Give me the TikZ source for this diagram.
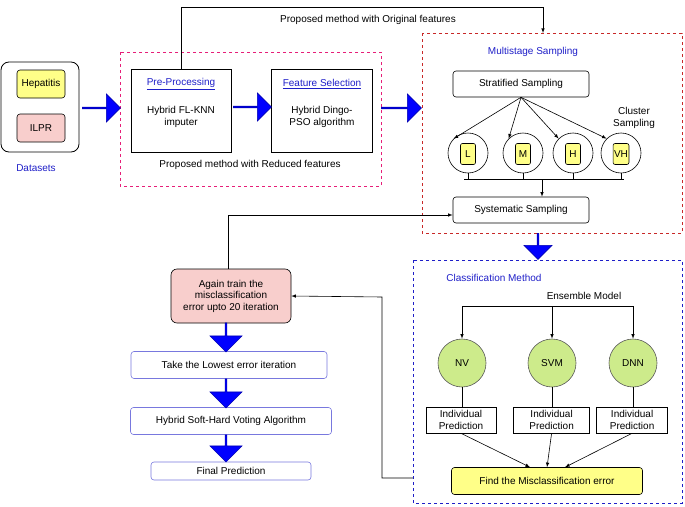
\documentclass[tikz,border=0pt]{standalone}
\usepackage{fontspec}
\setmainfont{Liberation Sans}
\usetikzlibrary{shapes.arrows,calc}
\definecolor{dsyellow}{RGB}{255,255,136}
\definecolor{dspink}{RGB}{248,206,204}
\definecolor{dsgreen}{RGB}{205,235,139}
\definecolor{dsred}{RGB}{200,40,40}
\definecolor{dsmag}{RGB}{230,30,120}
\definecolor{dsblue}{RGB}{30,30,200}
\tikzset{
  every picture/.style={line width=0.6pt},
  box/.style={draw, inner sep=1pt, align=center, font=\fontsize{10}{11.5}\selectfont},
  rbox/.style={box, rounded corners=3pt},
  bigarrow/.style={single arrow, fill=blue, draw=blue!70!black, minimum width=28pt,
    single arrow head extend=5pt, inner sep=0pt, minimum height=#1},
  circ/.style={circle, draw, minimum size=#1, inner sep=0pt},
  title/.style={text=dsblue, font=\fontsize{10}{11.5}\selectfont},
  lbl/.style={font=\fontsize{10}{11.5}\selectfont},
  conn/.style={-latex},
}
\begin{document}
\begin{tikzpicture}[x=1pt,y=-1pt]
\useasboundingbox (0,0) rectangle (685,506);
% dataset side
\node[rbox, minimum width=78pt, minimum height=90pt, rounded corners=8pt, line width=0.8pt] (data) at (40,107) {};
\node[rbox, fill=dsyellow, minimum width=48pt, minimum height=28pt] (hep) at (41,84) {Hepatitis};
\node[rbox, fill=dspink, minimum width=48pt, minimum height=28pt] (ilpr) at (41,128) {ILPR};
\node[title] (dlbl) at (36,168) {Datasets};
% reduced features group
\draw[dsmag, dashed, line width=1pt] (120,52) rectangle (381,186);
\node[box, minimum width=100pt, minimum height=83pt] (pre) at (181,111) {};
\node[lbl, text=dsblue] (pretit) at (181,84) {\underline{Pre-Processing}};
\node[lbl, align=center] (pretxt) at (181,117) {Hybrid FL-KNN\\imputer};
\node[box, minimum width=101pt, minimum height=83pt] (fs) at (322,111) {};
\node[lbl, text=dsblue] (fstit) at (322,84) {\underline{Feature Selection}};
\node[lbl, align=center] (fstxt) at (322,117) {Hybrid Dingo-\\PSO algorithm};
\node[lbl] (redlbl) at (250,165) {Proposed method with Reduced features};
\node[bigarrow=38pt] (a1) at (101,108) {};
\node[bigarrow=38pt] (a2) at (252,107) {};
\node[bigarrow=40pt] (a3) at (401,108) {};
% multistage sampling
\draw[dsred, dashed, line width=1pt] (422,33) rectangle (682,233);
\node[title] (mstit) at (533,52) {Multistage Sampling};
\node[rbox, minimum width=136pt, minimum height=26pt] (strat) at (521,84) {Stratified Sampling};
\foreach \n/\x in {L/468,M/523,H/573,VH/621}{
  \node[circ=40pt] (c\n) at (\x,153) {};
  \node[rbox, fill=dsyellow, minimum width=15pt, minimum height=21pt, rounded corners=2pt] (s\n) at (\x,154) {\n};
  \draw[conn] (strat.south) -- (c\n.north west);
  \draw (c\n.south) -- (\x,179);
}
\node[lbl, align=center] (clbl) at (634,118) {Cluster\\Sampling};
\draw (464,179) -- (624,179);
\coordinate (bus) at (542,179);
\node[rbox, minimum width=136pt, minimum height=26pt] (syst) at (521,210) {Systematic Sampling};
\draw[conn] (bus) -- (syst.north -| bus);
% original features link
\draw[conn] (pre.north) -- (181,7) -- (543,7) -- (543,33);
\node[lbl] (origlbl) at (368,20) {Proposed method with Original features};
\node[bigarrow=26pt, shape border rotate=270] (a4) at (538,246) {};
% classification
\draw[dsblue, dashed, line width=1pt] (413,260) rectangle (682,503);
\node[title] (cltit) at (494,278) {Classification Method};
\node[lbl] (ens) at (584,296) {Ensemble Model};
\draw (462,306) -- (633,306);
\foreach \n/\x/\l/\w in {nv/462/NV/70, svm/552/SVM/76, dnn/633/DNN/71}{
  \node[circ=48pt, fill=dsgreen, draw=gray!70!black, font=\fontsize{10}{11.5}\selectfont] (\n) at (\x,363) {\l};
  \draw[conn] (\x,306) -- (\n.north);
  \node[box, minimum width=\w pt, minimum height=26pt] (p\n) at (\x-8+\w/10,420) {Individual\\Prediction};
  \draw (\n.south) -- (\x,407);
}
\node[rbox, fill=dsyellow, minimum width=191pt, minimum height=27pt] (miss) at (547,481) {Find the Misclassification error};
\draw[conn] (pnv.south) -- ($(miss.north)+(-17,0)$);
\draw[conn] (psvm.south) -- ($(miss.north)+(0,0)$);
\draw[conn] (pdnn.south) -- ($(miss.north)+(18,0)$);
% left chain
\node[rbox, fill=dspink, minimum width=120pt, minimum height=54pt, rounded corners=6pt] (again) at (231,296) {Again train the\\misclassification\\error upto 20 iteration};
\draw[conn] (again.north -| 228,0) -- (228,215) -- (syst.west |- 0,215);
\draw[conn] (413,478) -- (382,478) -- (382,297) -- (again.east);
\node[rbox, draw=dsblue!60, minimum width=196pt, minimum height=27pt] (low) at (229,365) {Take the Lowest error iteration};
\node[rbox, draw=dsblue!60, minimum width=201pt, minimum height=27pt] (vote) at (231,421) {Hybrid Soft-Hard Voting Algorithm};
\node[rbox, draw=dsblue!60, minimum width=160pt, minimum height=18pt] (final) at (231,471) {Final Prediction};
\node[bigarrow=29pt, shape border rotate=270, minimum width=32pt] (a5) at (226,337) {};
\node[bigarrow=29pt, shape border rotate=270, minimum width=32pt] (a6) at (226,393) {};
\node[bigarrow=27pt, shape border rotate=270, minimum width=32pt] (a7) at (226,448) {};
\end{tikzpicture}
\end{document}
